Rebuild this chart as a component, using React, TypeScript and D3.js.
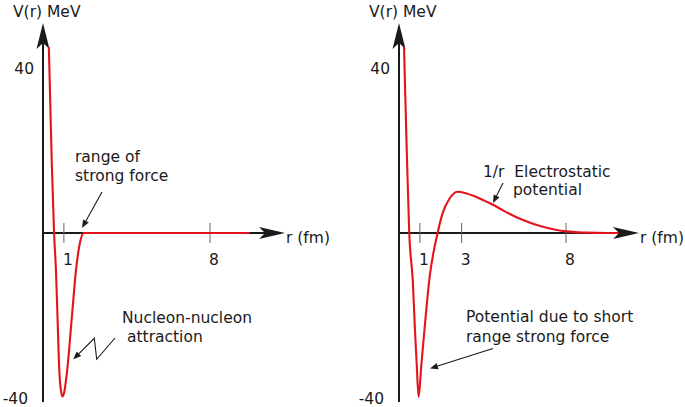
import React from 'react';
import * as d3 from 'd3';

// strong force only (left panel)
const leftR = [0.28, 0.42, 0.53, 0.62, 0.7, 0.78, 0.86, 0.94, 1.03, 1.16, 1.37, 1.58, 1.8, 1.96, 4, 7, 9.9];
const leftV = [44.8, 17, 0, -9, -21, -33, -38, -39.4, -38, -33, -21, -9, -1.7, 0, 0, 0, 0];

// strong force + electrostatic (right panel)
const rightR = [0.24, 0.36, 0.49, 0.66, 0.77, 0.85, 0.94, 1.07, 1.21, 1.45, 1.85, 2.09, 2.41, 2.8, 3.2, 3.6, 4.0, 4.5, 5.0, 5.5, 6.0, 6.8, 7.5, 8.0, 9.0, 10.0, 11.1];
const rightV = [44.8, 22, 0, -11.5, -23.9, -31.8, -39.5, -31.8, -23.9, -11.3, 0, 4.8, 8.2, 9.95, 9.6, 8.9, 8.0, 6.8, 5.4, 4.1, 3.0, 1.6, 0.8, 0.4, 0.1, 0, 0];

const leftTicks = [1, 8];
const rightTicks = [1, 3, 8];
const yTickLabels = [40, -40];

const RED = '#e5141c';
const INK = '#1a1a1a';
const FONT = '"DejaVu Sans", Verdana, sans-serif';

const y = d3.scaleLinear().domain([-40, 40]).range([399, 67]);

function ArrowHeadUp({ x, tip }: { x: number; tip: number }) {
  return <path d={`M${x},${tip} L${x + 6.5},${tip + 26} L${x},${tip + 20} L${x - 6.5},${tip + 26} Z`} fill={INK} />;
}

function ArrowHeadRight({ x, y0 }: { x: number; y0: number }) {
  return <path d={`M${x},${y0} L${x - 26},${y0 + 6} L${x - 20},${y0} L${x - 26},${y0 - 6} Z`} fill={INK} />;
}

// small pointer arrow ending at the last point
function Pointer({ pts }: { pts: [number, number][] }) {
  const [x1, y1] = pts[pts.length - 1];
  const [x0, y0] = pts[pts.length - 2];
  const a = Math.atan2(y1 - y0, x1 - x0);
  const len = 8, w = 3.2;
  const bx = x1 - len * Math.cos(a), by = y1 - len * Math.sin(a);
  const head = `M${x1},${y1} L${bx + w * Math.sin(a)},${by - w * Math.cos(a)} L${bx - w * Math.sin(a)},${by + w * Math.cos(a)} Z`;
  const line = d3.line()(pts.slice(0, -1).concat([[bx, by]]) as [number, number][]) || '';
  return (
    <g>
      <path d={line} fill="none" stroke={INK} strokeWidth={1.1} />
      <path d={head} fill={INK} />
    </g>
  );
}

function Panel({ rs, vs, ticks, x0, arrowTip, title }: { rs: number[]; vs: number[]; ticks: number[]; x0: number; arrowTip: number; title: string }) {
  const x = d3.scaleLinear().domain([0, 8]).range([x0, x0 + 167]);
  const pts = rs.map((r, i) => [r, vs[i]] as [number, number]);
  const curve = d3.line<[number, number]>()
    .x(d => x(d[0]))
    .y(d => y(d[1]))
    .curve(d3.curveMonotoneX)(pts) || '';
  const y0 = y(0);
  return (
    <g>
      <text x={x0 - 30} y={17} fontSize={15.5} fill={INK}>{title}</text>
      {/* y axis */}
      <line x1={x(0)} x2={x(0)} y1={y(-40) + 3} y2={40} stroke={INK} strokeWidth={2} />
      <ArrowHeadUp x={x(0)} tip={23} />
      {yTickLabels.map(v => (
        <text key={v} x={v > 0 ? x0 - 9 : x0 - 15} y={y(v) + (v > 0 ? 7 : 5)} fontSize={15.5} textAnchor="end" fill={INK}>{v}</text>
      ))}
      {/* x axis */}
      <line x1={x(0)} x2={arrowTip - 20} y1={y0} y2={y0} stroke={INK} strokeWidth={1.8} />
      {ticks.map(t => (
        <g key={t}>
          <line x1={x(t)} x2={x(t)} y1={y0 - 10} y2={y0 + 10} stroke="#666" strokeWidth={1} />
          <text x={x(t) + 4} y={265} fontSize={15.5} textAnchor="middle" fill={INK}>{t}</text>
        </g>
      ))}
      <path d={curve} fill="none" stroke={RED} strokeWidth={2.1} strokeLinejoin="round" />
      <ArrowHeadRight x={arrowTip} y0={y0} />
      <text x={arrowTip + 1} y={243} fontSize={15.5} fill={INK}>r (fm)</text>
    </g>
  );
}

export default function App() {
  return (
    <svg width={685} height={407} style={{ position: 'absolute', left: 0, top: 0, background: '#fff' }} fontFamily={FONT}>
      <rect width={685} height={407} fill="#fff" />
      <Panel rs={leftR} vs={leftV} ticks={leftTicks} x0={43} arrowTip={285} title="V(r) MeV" />
      <Panel rs={rightR} vs={rightV} ticks={rightTicks} x0={399} arrowTip={639} title="V(r) MeV" />

      <g fontSize={15.5} fill={INK}>
        <text x={75} y={162}>range of</text>
        <text x={75} y={181}>strong force</text>
        <text x={122} y={322.5}>Nucleon-nucleon</text>
        <text x={127} y={341.5}>attraction</text>
        <text x={483} y={176.5} xmlSpace="preserve">1/r  Electrostatic</text>
        <text x={513} y={195}>potential</text>
        <text x={466} y={322}>Potential due to short</text>
        <text x={466} y={341.5}>range strong force</text>
      </g>

      <Pointer pts={[[102, 192], [82, 228]]} />
      <Pointer pts={[[115, 338], [96.7, 359.3], [94.3, 338.3], [73.3, 359.3]]} />
      <Pointer pts={[[503, 183], [493, 203]]} />
      <Pointer pts={[[493, 348.5], [430, 368.5]]} />
    </svg>
  );
}
